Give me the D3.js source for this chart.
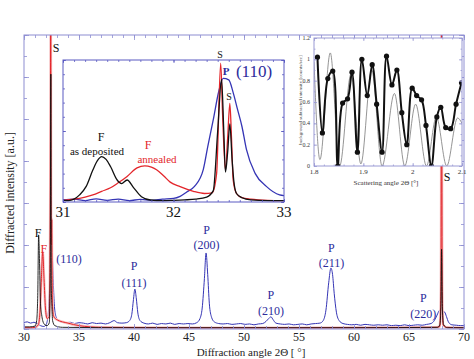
<!DOCTYPE html>
<html>
<head>
<meta charset="utf-8">
<script src="https://cdn.jsdelivr.net/npm/d3@7/dist/d3.min.js"></script>
<style>
  body { margin: 0; background: #fff; }
  svg text { font-family: "Liberation Serif", "Times New Roman", serif; }
</style>
</head>
<body>
<div id="chart"></div>
<script>
// ---- main pattern: [2theta, intensity a.u.] ----
const blueMain = [[30.0,0.15],[30.3,0.17],[30.6,0.14],[30.9,0.16],[31.2,0.13],[31.5,0.08],[31.8,0.06],[32.0,0.1],[32.2,0.35],[32.3,0.8],[32.4,1.5],[32.48,2.0],[32.55,1.9],[32.65,1.2],[32.75,0.6],[32.9,0.3],[33.1,0.2],[33.4,0.17],[33.8,0.15],[34.2,0.16],[34.6,0.13],[35.0,0.15],[35.4,0.14],[35.8,0.12],[36.2,0.15],[36.6,0.13],[37.0,0.14],[37.4,0.12],[37.8,0.15],[38.2,0.2],[38.5,0.15],[38.9,0.14],[39.3,0.15],[39.6,0.2],[39.8,0.35],[39.95,0.7],[40.08,0.95],[40.2,0.75],[40.35,0.38],[40.55,0.2],[40.9,0.14],[41.3,0.12],[41.7,0.14],[42.1,0.11],[42.5,0.13],[42.9,0.12],[43.3,0.14],[43.7,0.11],[44.1,0.13],[44.5,0.12],[44.9,0.13],[45.3,0.12],[45.7,0.15],[46.0,0.25],[46.2,0.5],[46.4,1.2],[46.55,1.81],[46.7,1.3],[46.85,0.6],[47.05,0.28],[47.3,0.17],[47.7,0.13],[48.1,0.12],[48.5,0.13],[48.9,0.11],[49.3,0.12],[49.7,0.13],[50.1,0.11],[50.5,0.12],[50.9,0.1],[51.3,0.12],[51.7,0.13],[52.0,0.18],[52.25,0.25],[52.45,0.29],[52.65,0.22],[52.9,0.14],[53.3,0.12],[53.7,0.11],[54.1,0.12],[54.5,0.1],[54.9,0.11],[55.3,0.12],[55.7,0.1],[56.1,0.12],[56.5,0.13],[56.9,0.14],[57.2,0.2],[57.45,0.45],[57.7,1.1],[57.9,1.45],[58.05,1.3],[58.2,0.85],[58.4,0.4],[58.65,0.2],[59.0,0.13],[59.4,0.11],[59.8,0.1],[60.2,0.11],[60.6,0.09],[61.0,0.11],[61.4,0.1],[61.8,0.09],[62.2,0.1],[62.6,0.09],[63.0,0.1],[63.4,0.08],[63.8,0.09],[64.2,0.08],[64.6,0.1],[65.0,0.08],[65.4,0.09],[65.8,0.1],[66.2,0.09],[66.6,0.11],[67.0,0.13],[67.3,0.2],[67.55,0.33],[67.75,0.44],[67.95,0.47],[68.1,0.42],[68.25,0.4],[68.4,0.3],[68.6,0.16],[68.9,0.1],[69.3,0.09],[69.7,0.08],[70.0,0.08]];
const redMain = [[30.0,0.03],[30.6,0.03],[31.0,0.04],[31.3,0.1],[31.45,0.4],[31.58,1.2],[31.7,1.83],[31.82,1.2],[31.95,0.5],[32.1,0.25],[32.3,0.3],[32.38,2.5],[32.43,7.5],[32.47,2.0],[32.52,2.6],[32.58,0.6],[32.7,0.3],[33.0,0.22],[34.0,0.14],[35.0,0.08],[37.0,0.04],[45.0,0.03],[55.0,0.03],[67.5,0.04],[67.8,0.06],[67.9,1.0],[67.96,7.5],[68.02,1.0],[68.1,0.1],[68.4,0.04],[70.0,0.03]];
const blackMain = [[30.0,0.05],[30.5,0.05],[31.0,0.07],[31.15,0.2],[31.25,0.8],[31.33,2.24],[31.42,1.5],[31.5,0.6],[31.6,0.35],[31.7,0.2],[31.9,0.1],[32.1,0.08],[32.3,0.15],[32.38,1.2],[32.44,6.07],[32.48,1.0],[32.53,0.6],[32.6,0.2],[32.8,0.08],[33.5,0.04],[40.0,0.03],[50.0,0.03],[60.0,0.03],[67.6,0.04],[67.8,0.1],[67.9,0.5],[67.96,1.9],[68.03,0.5],[68.15,0.1],[68.5,0.03],[70.0,0.03]];
const mainTicks = [30, 35, 40, 45, 50, 55, 60, 65, 70];

// peak labels: [label x (2theta), top line, bottom line, top baseline y, bottom baseline y]
const peakLabels = [[40.0,"P","(111)",270,287],[46.6,"P","(200)",234,249],[52.45,"P","(210)",299,315],[57.95,"P","(211)",252,267],[66.3,"P","(220)",302,318]];

// ---- inset 1: 31..33 deg, normalised ----
const blackIn = [[31.0,0.012],[31.05,0.01],[31.1,0.02],[31.15,0.05],[31.21,0.11],[31.27,0.225],[31.31,0.29],[31.35,0.32],[31.39,0.3],[31.43,0.25],[31.49,0.155],[31.53,0.13],[31.58,0.155],[31.64,0.1],[31.71,0.037],[31.79,0.014],[31.9,0.01],[32.0,0.012],[32.1,0.015],[32.2,0.02],[32.3,0.035],[32.36,0.08],[32.4,0.5],[32.435,0.864],[32.455,0.5],[32.47,0.21],[32.49,0.35],[32.51,0.55],[32.53,0.3],[32.545,0.155],[32.57,0.06],[32.62,0.03],[32.7,0.015],[32.85,0.01],[33.0,0.01]];
const redIn = [[31.0,0.012],[31.1,0.02],[31.2,0.035],[31.27,0.05],[31.35,0.075],[31.43,0.1],[31.5,0.135],[31.58,0.18],[31.67,0.24],[31.74,0.254],[31.8,0.245],[31.85,0.225],[31.91,0.185],[31.97,0.14],[32.06,0.108],[32.18,0.075],[32.28,0.06],[32.35,0.065],[32.39,0.2],[32.427,0.977],[32.445,0.6],[32.47,0.225],[32.49,0.45],[32.51,0.695],[32.525,0.45],[32.54,0.155],[32.57,0.06],[32.62,0.03],[32.7,0.02],[32.85,0.012],[33.0,0.01]];
const blueIn = [[31.0,0.014],[31.1,0.02],[31.2,0.01],[31.3,0.022],[31.4,0.012],[31.5,0.02],[31.6,0.01],[31.7,0.018],[31.8,0.012],[31.9,0.02],[32.0,0.025],[32.06,0.04],[32.12,0.07],[32.19,0.11],[32.27,0.23],[32.31,0.39],[32.36,0.58],[32.41,0.78],[32.45,0.87],[32.5,0.86],[32.54,0.77],[32.58,0.65],[32.62,0.53],[32.66,0.37],[32.74,0.2],[32.84,0.11],[32.96,0.05],[33.0,0.045]];
const inset1Ticks = [31, 32, 33];

// ---- inset 2: small-angle scattering ----
const measAngle = [1.807,1.817,1.828,1.838,1.848,1.858,1.868,1.877,1.888,1.897,1.908,1.918,1.927,1.938,1.947,1.958,1.968,1.978,1.988,1.999,2.008,2.018,2.027,2.038,2.049,2.057,2.067,2.077,2.088,2.099];
const measIntensity = [1.02,0.31,0.82,0.89,0.0,0.59,0.63,0.88,0.13,1.0,0.66,0.95,0.58,0.13,1.03,0.76,0.9,0.5,0.2,0.73,0.66,0.62,0.38,0.0,0.46,0.55,0.36,0.35,0.58,0.78];
const simCurve = [[1.800,0.98],[1.812,0.06],[1.833,1.06],[1.852,0.0],[1.875,0.86],[1.895,0.02],[1.917,0.9],[1.938,0.0],[1.963,0.68],[1.984,0.0],[2.006,0.58],[2.028,0.0],[2.048,0.46],[2.069,0.0],[2.091,0.45],[2.1,0.4]];
const inset2XTicks = [1.8, 1.9, 2, 2.1];
const inset2YTicks = [0, 0.2, 0.4, 0.6, 0.8, 1, 1.2];

const BLUE = "#3535b5", RED = "#e3262b", BLACK = "#111", LABEL_BLUE = "#2c2c9c";

const svg = d3.select("#chart").append("svg").attr("width", 474).attr("height", 359);
svg.append("rect").attr("width", 474).attr("height", 359).attr("fill", "#fff");

// frame + inward ticks helper
function frame(g, xs, ys, xMinor, xMajor, yMinor, yMajor, color, minorLen, majorLen) {
  const [x0, x1] = xs.range(), [y0, y1] = ys.range();
  const ax = [
    [d3.axisBottom(xs), `translate(0,${y0})`, xMinor, xMajor],
    [d3.axisTop(xs), `translate(0,${y1})`, xMinor, xMajor],
    [d3.axisLeft(ys), `translate(${x0},0)`, yMinor, yMajor],
    [d3.axisRight(ys), `translate(${x1},0)`, yMinor, yMajor],
  ];
  ax.forEach(([a, t, minor, major]) => {
    [[minor, minorLen], [major, majorLen]].forEach(([vals, len]) => {
      const s = g.append("g").attr("transform", t)
        .call(a.tickValues(vals).tickSize(-len).tickFormat(""));
      s.select(".domain").remove();
      s.selectAll("line").attr("stroke", color).attr("stroke-width", 0.8);
    });
  });
  g.append("rect").attr("x", x0).attr("y", y1).attr("width", x1 - x0).attr("height", y0 - y1)
    .attr("fill", "none").attr("stroke", color).attr("stroke-width", 1);
}

// ================= main plot =================
const x = d3.scaleLinear().domain([30, 70]).range([24, 464]);
const y = d3.scaleLinear().domain([0, 7]).range([329, 35]);

const defs = svg.append("defs");
defs.append("clipPath").attr("id", "clipMain").append("rect")
  .attr("x", 24).attr("y", 35).attr("width", 440).attr("height", 294);

const line = d3.line().x(d => x(d[0])).y(d => y(d[1])).curve(d3.curveMonotoneX);
const plot = svg.append("g").attr("clip-path", "url(#clipMain)");
plot.append("path").datum(blueMain).attr("d", line).attr("fill", "none").attr("stroke", BLUE).attr("stroke-width", 1);
plot.append("path").datum(redMain).attr("d", line).attr("fill", "none").attr("stroke", "#f6c2c3").attr("stroke-width", 2.6);
plot.append("path").datum(redMain).attr("d", line).attr("fill", "none").attr("stroke", RED).attr("stroke-width", 1);
plot.append("path").datum(blackMain).attr("d", line).attr("fill", "none").attr("stroke", BLACK).attr("stroke-width", 0.9);

frame(svg.append("g"), x, y, d3.range(30, 71, 1), mainTicks, d3.range(0, 7.01, 0.5), d3.range(0, 8, 1), "#8e8ed2", 3, 5);

svg.append("g").selectAll("text").data(mainTicks).join("text")
  .attr("x", d => x(d)).attr("y", 341).attr("text-anchor", "middle")
  .attr("font-size", 12).attr("fill", "#222").text(d => d);

svg.append("text").attr("x", 251).attr("y", 355.5).attr("text-anchor", "middle")
  .attr("font-size", 11).attr("fill", "#222").text("Diffraction angle 2Θ [ °]");
svg.append("text").attr("transform", "translate(14,193) rotate(-90)").attr("text-anchor", "middle")
  .attr("font-size", 12).attr("fill", "#222").text("Diffracted intensity [a.u.]");

// main annotations
svg.append("text").attr("x", 56).attr("y", 52).attr("text-anchor", "middle").attr("font-size", 12).attr("fill", BLACK).text("S");
svg.append("text").attr("x", x(31.27)).attr("y", 237).attr("text-anchor", "middle").attr("font-size", 12).attr("fill", BLACK).text("F");
svg.append("text").attr("x", x(31.8)).attr("y", 253).attr("text-anchor", "middle").attr("font-size", 12).attr("fill", RED).text("F");
svg.append("text").attr("x", 69).attr("y", 263).attr("text-anchor", "middle").attr("font-size", 12).attr("fill", LABEL_BLUE).text("(110)");
svg.append("text").attr("x", 447).attr("y", 181).attr("text-anchor", "middle").attr("font-size", 12).attr("fill", BLACK).text("S");

peakLabels.forEach(([a, p, hkl, yp, yh]) => {
  svg.append("text").attr("x", x(a)).attr("y", yp).attr("text-anchor", "middle")
    .attr("font-size", 12).attr("fill", LABEL_BLUE).text(p);
  svg.append("text").attr("x", x(a)).attr("y", yh).attr("text-anchor", "middle")
    .attr("font-size", 12).attr("fill", LABEL_BLUE).text(hkl);
});

// ================= inset 1 =================
const x1 = d3.scaleLinear().domain([31, 33]).range([63, 284]);
const y1 = d3.scaleLinear().domain([0, 1]).range([202, 60]);
svg.append("rect").attr("x", 63).attr("y", 60).attr("width", 221).attr("height", 142).attr("fill", "#fff");
defs.append("clipPath").attr("id", "clipIn1").append("rect")
  .attr("x", 63).attr("y", 60).attr("width", 221).attr("height", 142);
const line1 = d3.line().x(d => x1(d[0])).y(d => y1(d[1])).curve(d3.curveMonotoneX);
const in1 = svg.append("g").attr("clip-path", "url(#clipIn1)");
in1.append("path").datum(blueIn).attr("d", line1).attr("fill", "none").attr("stroke", BLUE).attr("stroke-width", 1.3);
in1.append("path").datum(redIn).attr("d", line1).attr("fill", "none").attr("stroke", RED).attr("stroke-width", 1.3);
in1.append("path").datum(blackIn).attr("d", line1).attr("fill", "none").attr("stroke", BLACK).attr("stroke-width", 1.3);
frame(svg.append("g"), x1, y1, d3.range(31, 33.01, 0.1), inset1Ticks, d3.range(0, 1.01, 0.1), [0, 0.5, 1], "#5b5bc2", 2, 3);

svg.append("g").selectAll("text").data(inset1Ticks).join("text")
  .attr("x", d => x1(d)).attr("y", 217).attr("text-anchor", "middle")
  .attr("font-size", 15).attr("fill", "#111").text(d => d);

svg.append("text").attr("x", 101).attr("y", 141).attr("text-anchor", "middle").attr("font-size", 12).attr("fill", BLACK).text("F");
svg.append("text").attr("x", 97).attr("y", 155).attr("text-anchor", "middle").attr("font-size", 11).attr("fill", BLACK).text("as deposited");
svg.append("text").attr("x", 148).attr("y", 149).attr("text-anchor", "middle").attr("font-size", 12).attr("fill", RED).text("F");
svg.append("text").attr("x", 157).attr("y", 163).attr("text-anchor", "middle").attr("font-size", 11).attr("fill", RED).text("annealed");
svg.append("text").attr("x", 220).attr("y", 58).attr("text-anchor", "middle").attr("font-size", 10).attr("fill", BLACK).text("S");
svg.append("text").attr("x", 229).attr("y", 100).attr("text-anchor", "middle").attr("font-size", 10).attr("fill", BLACK).text("S");
svg.append("text").attr("x", 226).attr("y", 75).attr("text-anchor", "middle").attr("font-size", 11).attr("font-weight", "bold").attr("fill", LABEL_BLUE).text("P");
svg.append("text").attr("x", 254).attr("y", 77).attr("text-anchor", "middle").attr("font-size", 17).attr("fill", LABEL_BLUE).text("(110)");

// ================= inset 2 =================
const x2 = d3.scaleLinear().domain([1.8, 2.1]).range([314, 462]);
const y2 = d3.scaleLinear().domain([0, 1.2]).range([166, 38]);
svg.append("rect").attr("x", 314).attr("y", 38).attr("width", 148).attr("height", 128).attr("fill", "#fff");
defs.append("clipPath").attr("id", "clipIn2").append("rect")
  .attr("x", 314).attr("y", 38).attr("width", 148).attr("height", 128);
const in2 = svg.append("g").attr("clip-path", "url(#clipIn2)");
in2.append("path").datum(simCurve)
  .attr("d", d3.line().x(d => x2(d[0])).y(d => y2(d[1])).curve(d3.curveMonotoneX))
  .attr("fill", "none").attr("stroke", "#7a7a7a").attr("stroke-width", 0.8);
const meas = measAngle.map((a, i) => [a, measIntensity[i]]);
in2.append("path").datum(meas)
  .attr("d", d3.line().x(d => x2(d[0])).y(d => y2(d[1])).curve(d3.curveCatmullRom))
  .attr("fill", "none").attr("stroke", "#111").attr("stroke-width", 2);
in2.selectAll("circle").data(meas).join("circle")
  .attr("cx", d => x2(d[0])).attr("cy", d => y2(d[1])).attr("r", 2.6).attr("fill", "#111");

frame(svg.append("g"), x2, y2, d3.range(1.8, 2.101, 0.02), inset2XTicks, d3.range(0, 1.21, 0.1), inset2YTicks, "#9a9ad4", 1.5, 3);

svg.append("g").selectAll("text").data(inset2XTicks).join("text")
  .attr("x", d => x2(d)).attr("y", 174).attr("text-anchor", "middle")
  .attr("font-size", 7).attr("fill", "#333").text(d => d);
svg.append("g").selectAll("text").data(inset2YTicks).join("text")
  .attr("x", 310).attr("y", d => y2(d) + 2).attr("text-anchor", "end")
  .attr("font-size", 6).attr("fill", "#333").text(d => d);
svg.append("text").attr("x", 386).attr("y", 185).attr("text-anchor", "middle")
  .attr("font-size", 7).attr("fill", "#333").text("Scattering angle 2Θ [°]");
svg.append("text").attr("transform", "translate(302,100) rotate(-90)").attr("text-anchor", "middle")
  .attr("font-size", 5).attr("fill", "#333").text("background subtracted intensity [counts/sec]");
</script>
</body>
</html>
